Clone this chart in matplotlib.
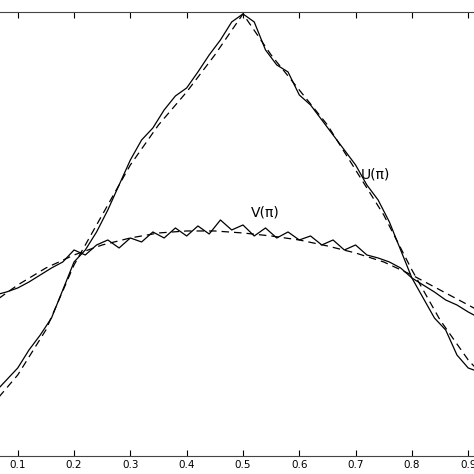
import numpy as np
import matplotlib
matplotlib.use("Agg")
import matplotlib.pyplot as plt

# values (y in image pixel units, axis inverted)
x_u = np.round(np.arange(0.04, 0.961, 0.02), 2)
u_solid = [400, 392, 380, 368, 350, 335, 318, 290, 262, 250, 232, 210, 185, 160, 140, 128,
           110, 96, 88, 72, 55, 40, 22, 14, 22, 50, 65, 72, 95, 105, 120, 135, 150, 165, 185,
           200, 222, 250, 278, 298, 318, 330, 355, 368, 372, 380, 385]
x_ud = [0.05, 0.1, 0.15, 0.2, 0.25, 0.3, 0.35, 0.4, 0.45, 0.5, 0.55, 0.6, 0.65, 0.7, 0.75,
        0.8, 0.85, 0.9, 0.95]
u_dash = [408, 375, 330, 265, 215, 165, 125, 92, 55, 14, 55, 90, 125, 170, 215, 270, 320,
          360, 390]
x_v = np.round(np.arange(0.0, 0.961, 0.02), 2)
v_solid = [312, 305, 300, 295, 292, 288, 282, 275, 268, 262, 250, 255, 245, 240, 248, 238,
           242, 232, 238, 228, 236, 226, 234, 220, 230, 225, 236, 228, 238, 232, 240, 236,
           245, 240, 250, 245, 255, 258, 262, 268, 278, 285, 292, 300, 305, 312, 318, 325, 330]
x_vd = [0.0, 0.05, 0.1, 0.15, 0.2, 0.25, 0.3, 0.35, 0.4, 0.45, 0.5, 0.55, 0.6, 0.65, 0.7,
        0.75, 0.8, 0.85, 0.9, 0.95, 1.0]
v_dash = [318, 305, 285, 268, 255, 245, 238, 233, 231, 231, 233, 236, 240, 246, 253, 262,
          275, 290, 305, 320, 335]
tick_vals = [0.1, 0.2, 0.3, 0.4, 0.5, 0.6, 0.7, 0.8, 0.9]

fig = plt.figure(figsize=(4.74, 4.74), dpi=100)
ax = fig.add_axes([-0.0814, 0.0388, 1.188, 0.936])
ax.plot(x_u, u_solid, color='black', lw=0.9)
ax.plot(x_ud, u_dash, color='black', lw=0.9, ls=(0, (6, 4)))
ax.plot(x_v, v_solid, color='black', lw=0.9)
ax.plot(x_vd, v_dash, color='black', lw=0.9, ls=(0, (6, 4)))
ax.text(0.736, 175, 'U(π)', fontsize=10, ha='center', va='center')
ax.text(0.539, 213, 'V(π)', fontsize=10, ha='center', va='center')

ax.set_xlim(0, 1)
ax.set_ylim(455.6, 12)
ax.set_xticks(tick_vals)
ax.set_xticklabels(['%.1f' % v for v in tick_vals])
ax.set_yticks([])
ax.tick_params(axis='x', direction='in', top=True, labelsize=7.5, length=4)
for s in ax.spines.values():
    s.set_color('#444444')
fig.savefig('out.png', dpi=100)
